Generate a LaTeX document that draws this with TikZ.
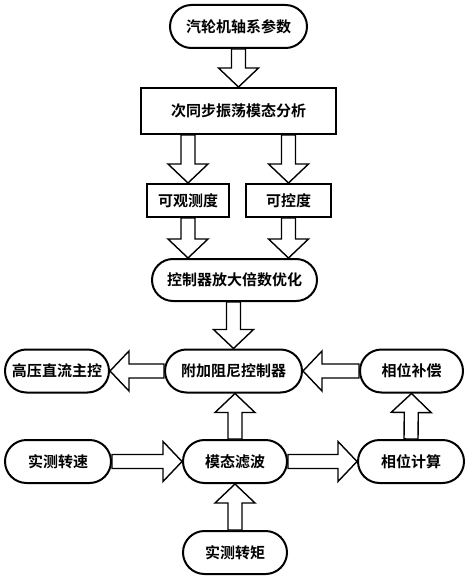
\documentclass[tikz,border=0pt]{standalone}
\usepackage{fontspec}
\setmainfont{Noto Sans CJK SC}[BoldFont={* Bold}]
\usetikzlibrary{calc,shapes.misc}
\tikzset{
  every node/.style={font=\bfseries\fontsize{15}{18}\selectfont, inner sep=0pt},
  term/.style={rounded rectangle, draw, line width=2pt, minimum height=#1},
  term/.default=43pt,
  sbox/.style={rectangle, draw, line width=2pt},
  blockarrow/.style={draw, line width=1.4pt, fill=white, line join=miter},
}
\newcommand\sw{7pt}
\newcommand\hw{20pt}
\newcommand\hl{19pt}
\newcommand\barrow[2]{%
  \draw[blockarrow] ($(#1)!\sw!90:(#2)$) -- ($(#2)!\hl!(#1)!\sw!90:(#2)$)
    -- ($(#2)!\hl!(#1)!\hw!90:(#2)$) -- (#2)
    -- ($(#2)!\hl!(#1)!\hw!-90:(#2)$) -- ($(#2)!\hl!(#1)!\sw!-90:(#2)$)
    -- ($(#1)!\sw!-90:(#2)$) -- cycle;}
\begin{document}
\begin{tikzpicture}[x=1pt,y=-1pt]
\useasboundingbox (0,0) rectangle (474,583);
\node[term, minimum width=137pt] (n1) at (238.5,26.5) {汽轮机轴系参数};
\node[sbox, minimum width=195pt, minimum height=46pt] (n2) at (238.5,111) {次同步振荡模态分析};
\node[sbox, minimum width=82pt, minimum height=33pt] (n3a) at (188,200.5) {可观测度};
\node[sbox, minimum width=85pt, minimum height=33pt] (n3b) at (288.5,200.5) {可控度};
\node[term=42pt, minimum width=165pt] (n4) at (234.5,280) {控制器放大倍数优化};
\node[term, minimum width=104pt] (n5a) at (57,371) {高压直流主控};
\node[term, minimum width=137pt] (n5b) at (233.5,371) {附加阻尼控制器};
\node[term, minimum width=103pt] (n5c) at (411.5,371) {相位补偿};
\node[term, minimum width=106pt] (n6a) at (58,461.5) {实测转速};
\node[term, minimum width=104pt] (n6b) at (235,461.5) {模态滤波};
\node[term, minimum width=106pt] (n6c) at (411,461.5) {相位计算};
\node[term, minimum width=104pt] (n7) at (235,552.5) {实测转矩};
\barrow{n1.south}{n2.north}
\barrow{n3a.north |- n2.south}{n3a.north}
\barrow{n3b.north |- n2.south}{n3b.north}
\barrow{n3a.south}{n3a.south |- n4.north}
\barrow{n3b.south}{n3b.south |- n4.north}
\barrow{n4.south -| n5b.north}{n5b.north}
\barrow{n5b.west}{n5a.east}
\barrow{n5c.west}{n5b.east}
\barrow{n6b.north}{n6b.north |- n5b.south}
\barrow{n6c.north}{n5c.south}
\barrow{n6a.east}{n6b.west}
\barrow{n6b.east}{n6c.west}
\barrow{n7.north}{n6b.south}
\end{tikzpicture}
\end{document}
